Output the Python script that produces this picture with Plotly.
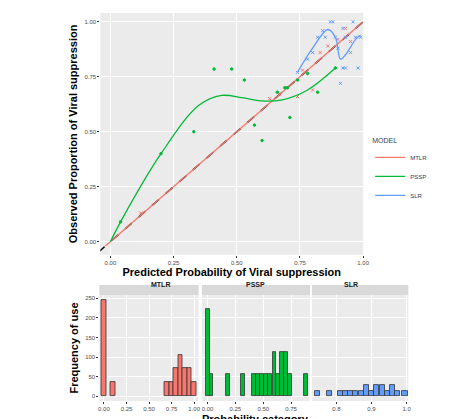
import plotly.graph_objects as go

models = ["MTLR", "PSSP", "SLR"]
colors = {"MTLR": "#F8766D", "PSSP": "#00BA38", "SLR": "#619CFF"}

# calibration points (predicted, observed)
mtlr_pred = [0.12, 0.63, 0.67, 0.70, 0.74, 0.76, 0.80, 0.83, 0.86, 0.90, 0.93, 0.95]
mtlr_obs = [0.13, 0.65, 0.67, 0.70, 0.66, 0.78, 0.69, 0.86, 0.89, 0.92, 0.97, 0.91]
pssp_pred = [0.04, 0.20, 0.33, 0.41, 0.48, 0.53, 0.57, 0.60, 0.66, 0.69, 0.70, 0.71, 0.74, 0.78, 0.82, 0.89]
pssp_obs = [0.09, 0.40, 0.50, 0.785, 0.785, 0.735, 0.53, 0.46, 0.68, 0.70, 0.70, 0.565, 0.735, 0.765, 0.68, 0.79]
slr_pred = [0.74, 0.78, 0.80, 0.82, 0.84, 0.85, 0.87, 0.88, 0.89, 0.90, 0.91, 0.92,
            0.92, 0.93, 0.93, 0.95, 0.96, 0.97, 0.98, 0.99]
slr_obs = [0.77, 0.83, 0.86, 0.93, 0.96, 0.93, 1.00, 1.00, 0.93, 0.88, 0.72, 0.79,
           0.97, 0.79, 0.93, 0.86, 1.00, 0.93, 0.79, 0.93]

# smoothed curves
mtlr_fit_x = [-0.02, 1.0]
mtlr_fit_y = [-0.02, 1.0]
pssp_fit_x = [0.0, 0.04, 0.2, 0.35, 0.44, 0.52, 0.60, 0.68, 0.78, 0.89]
pssp_fit_y = [0.0, 0.09, 0.40, 0.62, 0.665, 0.655, 0.64, 0.645, 0.69, 0.79]
slr_fit_x = [0.74, 0.80, 0.86, 0.89, 0.91, 0.93, 0.97, 0.99]
slr_fit_y = [0.77, 0.88, 0.965, 0.93, 0.83, 0.85, 0.92, 0.94]

# histograms: bin centres and counts
mtlr_bins = [0.0, 0.1, 0.70, 0.75, 0.80, 0.85, 0.90, 0.95, 1.0]
mtlr_counts = [245, 36, 36, 36, 72, 106, 72, 72, 36]
pssp_bins = [0.0, 0.035, 0.18, 0.32, 0.42, 0.455, 0.49, 0.525, 0.56, 0.60, 0.635, 0.67, 0.705, 0.74, 0.88]
pssp_counts = [222, 56, 56, 56, 56, 56, 56, 56, 56, 112, 56, 112, 112, 56, 56]
slr_bins = [0.745, 0.78, 0.81, 0.825, 0.84, 0.855, 0.87, 0.885, 0.90, 0.915, 0.93, 0.945, 0.96, 0.975, 0.995]
slr_counts = [14, 14, 14, 14, 14, 14, 14, 28, 14, 28, 28, 14, 28, 14, 14]

bg = "#EBEBEB"
tick_font = dict(size=6, color="#4D4D4D", family="Liberation Sans")
title_font = dict(size=11, color="black", family="Liberation Sans")

fig = go.Figure()

fig.add_trace(go.Scatter(x=[-0.05, 1.02], y=[-0.05, 1.02], mode="lines",
                         line=dict(color="black", dash="dash", width=1.5), showlegend=False))
for name, px, py, fx, fy in [("MTLR", mtlr_pred, mtlr_obs, mtlr_fit_x, mtlr_fit_y),
                             ("PSSP", pssp_pred, pssp_obs, pssp_fit_x, pssp_fit_y),
                             ("SLR", slr_pred, slr_obs, slr_fit_x, slr_fit_y)]:
    sym = "circle" if name == "PSSP" else "x-thin"
    fig.add_trace(go.Scatter(x=px, y=py, mode="markers", showlegend=False,
                             marker=dict(color=colors[name], size=2.5 if name == "PSSP" else 3, symbol=sym,
                                         line=dict(color=colors[name], width=1))))
    fig.add_trace(go.Scatter(x=fx, y=fy, mode="lines", name=name, line_shape="spline",
                             line=dict(color=colors[name], width=1.3)))

hist = [("MTLR", mtlr_bins, mtlr_counts, 0.05, "x2"),
        ("PSSP", pssp_bins, pssp_counts, 0.035, "x3"),
        ("SLR", slr_bins, slr_counts, 0.0145, "x4")]
for name, bx, by, w, xa in hist:
    fig.add_trace(go.Bar(x=bx, y=by, width=w, xaxis=xa, yaxis="y2", showlegend=False,
                         marker=dict(color=colors[name], line=dict(color="#333333", width=0.8))))

grid = dict(showgrid=True, gridcolor="white", zeroline=False, tickfont=tick_font,
            ticks="outside", ticklen=2, tickcolor="#333333")
fig.update_layout(
    width=474, height=419, margin=dict(l=0, r=0, t=0, b=0),
    paper_bgcolor="white", plot_bgcolor=bg, bargap=0,
    xaxis=dict(domain=[0.196, 0.760], range=[-0.04, 1.0], anchor="y",
               tickvals=[0, 0.25, 0.5, 0.75, 1.0], ticktext=["0.00", "0.25", "0.50", "0.75", "1.00"],
               title=dict(text="<b>Predicted Probability of Viral suppression</b>", font=title_font, standoff=2), **grid),
    yaxis=dict(domain=[0.411, 0.988], range=[-0.06, 1.04], anchor="x",
               tickvals=[0, 0.25, 0.5, 0.75, 1.0], ticktext=["0.00", "0.25", "0.50", "0.75", "1.00"],
               title=dict(text="<b>Observed Proportion of Viral suppression</b>", font=title_font, standoff=4), **grid),
    xaxis2=dict(domain=[0.194, 0.407], range=[-0.05, 1.05], anchor="y2",
                tickvals=[0, 0.25, 0.5, 0.75, 1.0], ticktext=["0.00", "0.25", "0.50", "0.75", "1.00"], **grid),
    xaxis3=dict(domain=[0.414, 0.646], range=[-0.05, 0.92], anchor="y2",
                tickvals=[0, 0.25, 0.5, 0.75], ticktext=["0.00", "0.25", "0.50", "0.75"], **grid),
    xaxis4=dict(domain=[0.650, 0.857], range=[0.73, 1.005], anchor="y2",
                tickvals=[0.8, 0.9, 1.0], ticktext=["0.8", "0.9", "1.0"], **grid),
    yaxis2=dict(domain=[0.062, 0.315], range=[-12, 258], anchor="x2",
                tickvals=[0, 50, 100, 150, 200, 250],
                title=dict(text="<b>Frequency of use</b>", font=title_font, standoff=4), **grid),
    legend=dict(x=0.775, y=0.70, xanchor="left", yanchor="top", font=dict(size=6, family="Liberation Sans"),
                title=dict(text="MODEL", font=dict(size=7, family="Liberation Sans")),
                bgcolor="white", tracegroupgap=0, itemwidth=30),
)

fig.add_annotation(text="<b>Probability category</b>", xref="paper", yref="paper", x=0.53, y=0.0,
                   yanchor="bottom", showarrow=False, font=title_font)

# facet strips
for name, (x0, x1) in zip(models, [(0.194, 0.407), (0.414, 0.646), (0.650, 0.857)]):
    fig.add_shape(type="rect", xref="paper", yref="paper", x0=x0, x1=x1, y0=0.315, y1=0.339,
                  fillcolor="#D9D9D9", line_width=0)
    fig.add_annotation(text=f"<b>{name}</b>", xref="paper", yref="paper", x=(x0 + x1) / 2, y=0.327,
                       showarrow=False, font=dict(size=7, color="#1A1A1A", family="Liberation Sans"))

fig.write_html("out.html")
